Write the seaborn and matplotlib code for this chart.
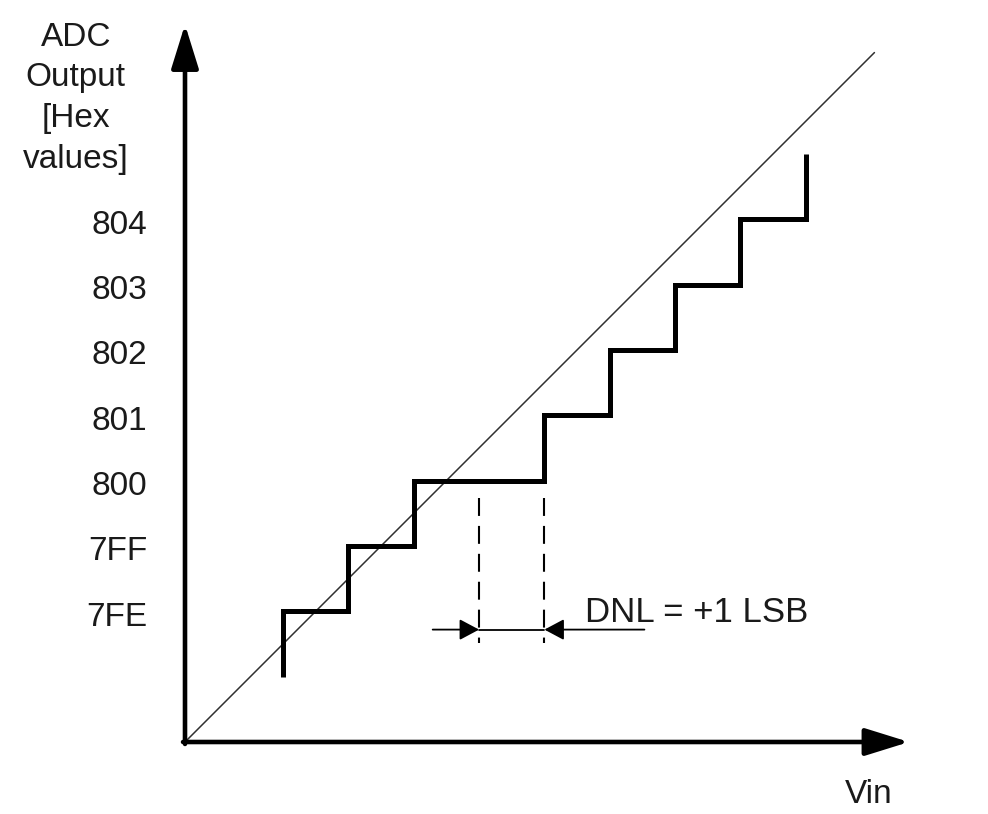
import numpy as np
import pandas as pd
import seaborn as sns
import matplotlib.pyplot as plt

# output codes shown on the y axis (level index in LSB units)
codes = ['7FE', '7FF', '800', '801', '802', '803', '804']
code_levels = [2, 3, 4, 5, 6, 7, 8]

# staircase transfer function (Vin in LSB, output level)
stair_vin = [1.5, 2.5, 3.5, 5.5, 6.5, 7.5, 8.5, 9.5, 9.5]
stair_out = [1, 2, 3, 4, 5, 6, 7, 8, 9]

# ideal straight line
ideal_vin = [0.0, 10.55]
ideal_out = [0.0, 10.55]

# the wide code (DNL = +1 LSB) edges
dnl_edges = [4.5, 5.5]
dnl_top = 3.74
dnl_bottom = 1.52
dnl_arrow_y = 1.72

sns.set_theme(style='white')
plt.rcParams['font.family'] = ['Liberation Sans', 'DejaVu Sans']

W, H = 988, 814
SCALE = 65.35
X0, Y0 = 185, 742

fig = plt.figure(figsize=(W / 100, H / 100), dpi=100)
ax = fig.add_axes([0, 0, 1, 1])
ax.set_xlim(-X0 / SCALE, (W - X0) / SCALE)
ax.set_ylim((Y0 - H) / SCALE, Y0 / SCALE)
ax.axis('off')

# ideal line
sns.lineplot(x=ideal_vin, y=ideal_out, ax=ax, color='#303030', lw=1.1,
             estimator=None, sort=False)

# staircase
stairs = pd.DataFrame({'vin': stair_vin, 'out': stair_out})
sns.lineplot(data=stairs, x='vin', y='out', ax=ax, color='black', lw=3.6,
             drawstyle='steps-pre', estimator=None, sort=False,
             solid_joinstyle='miter', solid_capstyle='butt')

# dashed guides for the wide code
for e in dnl_edges:
    sns.lineplot(x=[e, e], y=[dnl_top, dnl_bottom], ax=ax, color='black',
                 lw=1.5, dashes=False, estimator=None, sort=False,
                 linestyle=(0, (8.6, 4.8)))

# axes with arrows
axis_style = '-|>,head_length=0.9,head_width=0.28'
ax.annotate('', xy=(0, 10.98), xytext=(0, -0.03),
            arrowprops=dict(arrowstyle=axis_style, lw=3.3, color='black',
                            mutation_scale=30, shrinkA=0, shrinkB=0))
ax.annotate('', xy=(11.08, 0), xytext=(-0.03, 0),
            arrowprops=dict(arrowstyle=axis_style, lw=3.3, color='black',
                            mutation_scale=30, shrinkA=0, shrinkB=0))

# DNL arrows
small_style = '-|>,head_length=0.6,head_width=0.32'
ax.annotate('', xy=(dnl_edges[0], dnl_arrow_y), xytext=(3.79, dnl_arrow_y),
            arrowprops=dict(arrowstyle=small_style, lw=1.3, color='black',
                            mutation_scale=20, shrinkA=0, shrinkB=0))
ax.annotate('', xy=(dnl_edges[1], dnl_arrow_y), xytext=(7.03, dnl_arrow_y),
            arrowprops=dict(arrowstyle=small_style, lw=1.3, color='black',
                            mutation_scale=20, shrinkA=0, shrinkB=0))
ax.plot(dnl_edges, [dnl_arrow_y, dnl_arrow_y], color='black', lw=1.3)

ax.text(6.12, 1.98, 'DNL = +1 LSB', fontsize=25, ha='left', va='center',
        color='#1a1a1a')

# tick labels
for lab, lvl in zip(codes, code_levels):
    ax.text(-0.58, lvl - 0.09, lab, fontsize=24, ha='right', va='center',
            color='#1a1a1a')

ax.text(-1.67, 11.02, 'ADC\nOutput\n[Hex\nvalues]', fontsize=24, ha='center',
        va='top', linespacing=1.4, color='#1a1a1a')
ax.text(10.46, -0.8, 'Vin', fontsize=24, ha='center', va='center',
        color='#1a1a1a')

fig.savefig('out.png', dpi=100, facecolor='white')
